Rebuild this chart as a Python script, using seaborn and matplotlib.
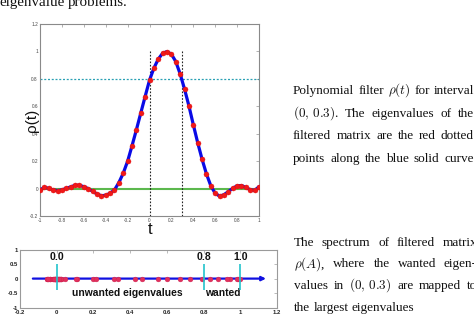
import matplotlib
matplotlib.use("Agg")
import matplotlib.pyplot as plt
import seaborn as sns
import pandas as pd

# Eigenvalues t_i of A and the filter values rho(t_i)
t_nodes = [-1.00, -0.96, -0.92, -0.88, -0.84, -0.80, -0.76, -0.72, -0.68, -0.64,
           -0.60, -0.56, -0.52, -0.48, -0.44, -0.40, -0.36, -0.32, -0.28, -0.24,
           -0.20, -0.16, -0.12, -0.08, -0.04, 0.00, 0.04, 0.08, 0.12, 0.16,
           0.20, 0.24, 0.28, 0.32, 0.36, 0.40, 0.44, 0.48, 0.52, 0.56,
           0.60, 0.64, 0.68, 0.72, 0.76, 0.80, 0.84, 0.88, 0.92, 0.96, 1.00]
rho_vals = [-0.010, 0.009, 0.002, -0.010, -0.015, -0.010, 0.002, 0.012, 0.024, 0.024,
            0.014, 0.000, -0.020, -0.039, -0.052, -0.049, -0.034, -0.010, 0.043, 0.112,
            0.199, 0.311, 0.428, 0.550, 0.671, 0.790, 0.878, 0.944, 0.987, 0.999,
            0.980, 0.926, 0.836, 0.725, 0.603, 0.466, 0.335, 0.214, 0.107, 0.020,
            -0.035, -0.055, -0.045, -0.022, 0.002, 0.020, 0.022, 0.008, -0.008, -0.014,
            0.014]

interval = [0.0, 0.3]
threshold = 0.8

top_xticks = [-1, -0.8, -0.6, -0.4, -0.2, 0, 0.2, 0.4, 0.6, 0.8, 1]
top_xlabels = ["-1", "-0.8", "-0.6", "-0.4", "-0.2", "0", "0.2", "0.4", "0.6", "0.8", "1"]
top_yticks = [-0.2, 0, 0.2, 0.4, 0.6, 0.8, 1, 1.2]
top_ylabels = ["-0.2", "0", "0.2", "0.4", "0.6", "0.8", "1", "1.2"]

bot_xticks = [-0.2, 0, 0.2, 0.4, 0.6, 0.8, 1, 1.2]
bot_xlabels = ["-0.2", "0", "0.2", "0.4", "0.6", "0.8", "1", "1.2"]
bot_yticks = [-1, -0.5, 0, 0.5, 1]
bot_ylabels = ["-1", "-0.5", "0", "0.5", "1"]

axis_span = [-0.13, 1.14]
marks = [0.0, 0.8, 1.0]
mark_labels = ["0.0", "0.8", "1.0"]
region_labels = ["unwanted eigenvalues", "wanted"]
region_x = [0.383, 0.904]

sns.set_theme(style="white")
plt.rcParams["font.family"] = ["Liberation Sans", "DejaVu Sans"]
plt.rcParams["mathtext.fontset"] = "cm"

W, H = 474, 322
fig = plt.figure(figsize=(W / 100, H / 100), dpi=100)
fig.patch.set_facecolor("white")


def px_axes(left, top, right, bottom):
    return fig.add_axes([left / W, 1 - bottom / H, (right - left) / W, (bottom - top) / H])


# ---- polynomial filter rho(t) ----
ax1 = px_axes(40, 24, 259, 216)
df = pd.DataFrame({"t": t_nodes, "rho": rho_vals})
ax1.axhline(0, color="#5cb84e", lw=1.5, zorder=1)
ax1.axhline(threshold, color="#2aa0b4", lw=0.9, ls=(0, (1.6, 1.4)), zorder=1)
ax1.vlines(interval, -0.2, 1.0, colors="#222222", lw=0.8, linestyles=(0, (1.5, 1.5)), zorder=2)
sns.lineplot(data=df, x="t", y="rho", ax=ax1, color="#0a0ae6", lw=2.3,
             sort=False, estimator=None, zorder=3)
sns.scatterplot(data=df, x="t", y="rho", ax=ax1, color="#f01818", s=13,
                edgecolor="#e01010", linewidth=0.3, zorder=4)
ax1.set_xlim(-1, 1)
ax1.set_ylim(-0.2, 1.2)
ax1.set_xticks(top_xticks)
ax1.set_xticklabels(top_xlabels)
ax1.set_yticks(top_yticks)
ax1.set_yticklabels(top_ylabels)
ax1.set_xlabel("")
ax1.set_ylabel("")
ax1.tick_params(direction="in", top=True, right=True, length=2, width=0.4,
                color="#777777", labelsize=3.4, labelcolor="#444444", pad=1.5)
for s in ax1.spines.values():
    s.set_color("#8a8a8a")
    s.set_linewidth(0.8)

fig.text(32 / W, 1 - 120 / H, "ρ(t)", rotation=90, ha="center", va="center",
         fontsize=11, color="#111111")
fig.text(150 / W, 1 - 230 / H, "t", ha="center", va="center", fontsize=12,
         color="#111111")

# ---- spectrum of rho(A) ----
ax2 = px_axes(20, 249.6, 277, 307.6)
ax2.annotate("", xy=(axis_span[1], 0), xytext=(axis_span[0], 0),
             arrowprops=dict(arrowstyle="-|>", color="#1010e0", lw=1.6,
                             mutation_scale=6, shrinkA=0, shrinkB=0), zorder=2)
df2 = pd.DataFrame({"eig": rho_vals, "level": [0.0] * len(rho_vals)})
sns.scatterplot(data=df2, x="eig", y="level", ax=ax2, color="#e0305c", s=12,
                edgecolor="#d02050", linewidth=0.3, zorder=3)
ax2.vlines(marks, -0.4, 0.5, colors="#22c4cc", lw=1.2, zorder=5)
for m, lab in zip(marks, mark_labels):
    ax2.text(m, 0.73, lab, ha="center", va="center", fontsize=7.6,
             fontweight="bold", color="#111111")
for xr, lab in zip(region_x, region_labels):
    ax2.text(xr, -0.51, lab, ha="center", va="center", fontsize=7.4,
             fontweight="bold", color="#111111")
ax2.set_xlim(-0.2, 1.2)
ax2.set_ylim(-1, 1)
ax2.set_xticks(bot_xticks)
ax2.set_xticklabels(bot_xlabels, fontweight="bold")
ax2.set_yticks(bot_yticks)
ax2.set_yticklabels(bot_ylabels, fontweight="bold")
ax2.set_xlabel("")
ax2.set_ylabel("")
ax2.tick_params(direction="in", top=True, right=True, length=2, width=0.4,
                color="#888888", labelsize=4.3, labelcolor="#222222", pad=1.5)
for s in ax2.spines.values():
    s.set_color("#9a9a9a")
    s.set_linewidth(0.8)

# ---- surrounding page text ----
serif = ["Liberation Serif", "DejaVu Serif"]
renderer = fig.canvas.get_renderer()


def text_line(parts, x0, y, size, x1=None):
    objs = [fig.text(x0 / W, 1 - y / H, p, fontsize=size, family=serif,
                     va="baseline", ha="left", color="#111111") for p in parts]
    widths = [o.get_window_extent(renderer).width for o in objs]
    if x1 is None or len(parts) < 2:
        probe_a = fig.text(0, 0, "a a", fontsize=size, family=serif)
        probe_b = fig.text(0, 0, "aa", fontsize=size, family=serif)
        gap = probe_a.get_window_extent(renderer).width - probe_b.get_window_extent(renderer).width
        probe_a.remove()
        probe_b.remove()
    else:
        gap = max((x1 - x0 - sum(widths)) / (len(parts) - 1), 1.5)
    x = x0
    for o, w in zip(objs, widths):
        o.set_x(x / W)
        x += w + gap


fs = 9.5
text_line(["eigenvalue", "problems."], -1, 6, 10.8)

para1 = [["Polynomial", "filter", r"$\rho(t)$", "for", "interval"],
         [r"$(0,\,0.3)$.", "The", "eigenvalues", "of", "the"],
         ["filtered", "matrix", "are", "the", "red", "dotted"],
         ["points", "along", "the", "blue", "solid", "curve"]]
for k, words in enumerate(para1):
    text_line(words, 293, 94 + 22.6 * k, fs, x1=474)

para2 = [["The", "spectrum", "of", "filtered", "matrix"],
         [r"$\rho(A)$,", "where", "the", "wanted", "eigen-"],
         ["values", "in", r"$(0,\,0.3)$", "are", "mapped", "to"],
         ["the", "largest", "eigenvalues"]]
for k, words in enumerate(para2):
    text_line(words, 294, 245.7 + 21.7 * k, fs, x1=(477 if k < 3 else None))

fig.savefig("out.png", dpi=100, facecolor="white")
